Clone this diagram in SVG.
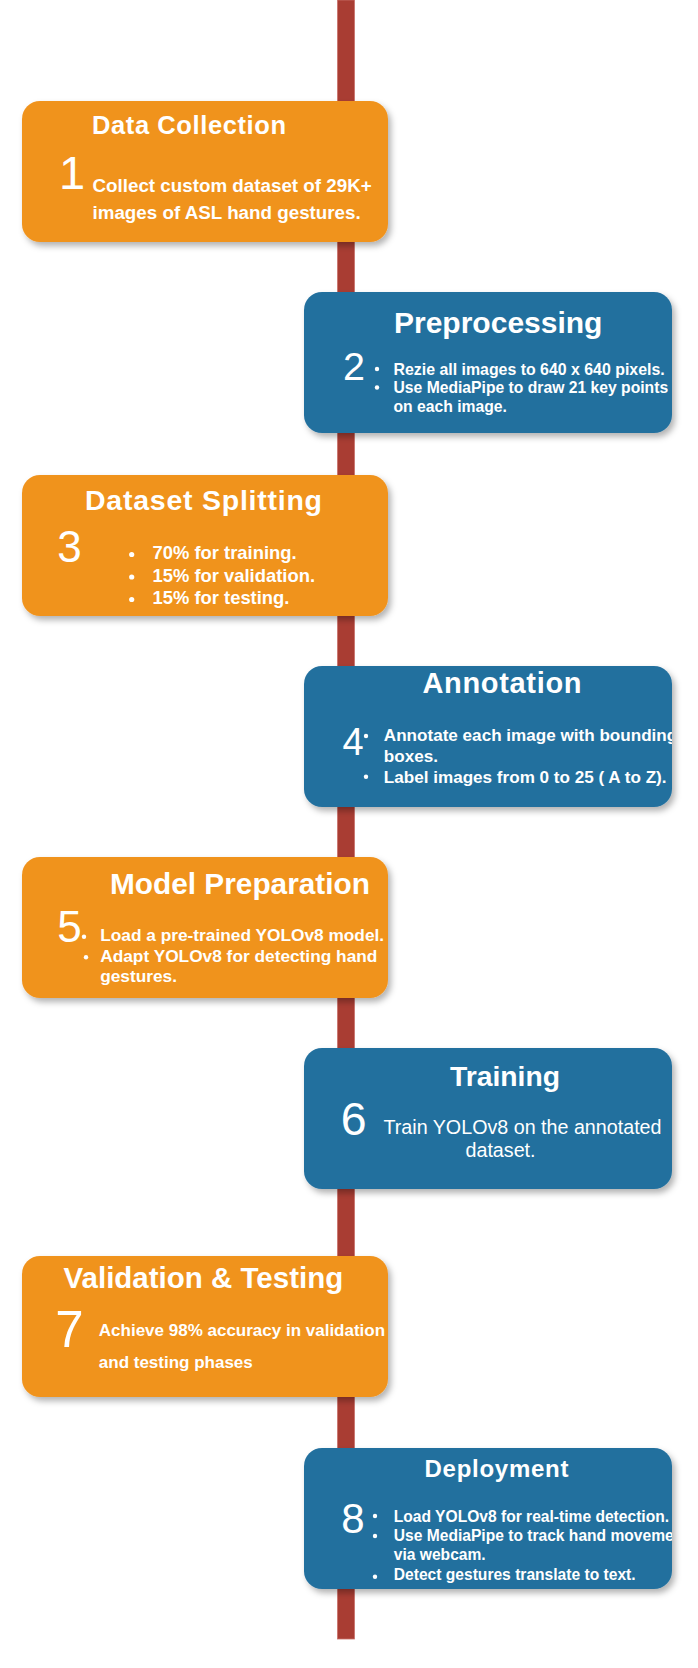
<svg xmlns="http://www.w3.org/2000/svg" width="698" height="1668" viewBox="0 0 698 1668">
<style>
text{font-family:"Liberation Sans",Arial,Helvetica,sans-serif;fill:#ffffff}
.t{font-weight:bold}
.b{font-weight:bold}
.r{font-weight:normal}
.n{font-weight:normal}
.org{fill:#F0931F}
.blu{fill:#23709E}
.dot{fill:#ffffff}
</style>
<defs>
<filter id="sh" x="-10%" y="-10%" width="125%" height="130%">
<feDropShadow dx="3" dy="4" stdDeviation="3" flood-color="#000000" flood-opacity="0.3"/>
</filter>
<clipPath id="c4"><rect x="304" y="666" width="368" height="141" rx="18"/></clipPath>
<clipPath id="c7"><rect x="22" y="1256" width="366" height="141" rx="18"/></clipPath>
<clipPath id="c8"><rect x="304" y="1448" width="368" height="141" rx="18"/></clipPath>
</defs>
<rect width="698" height="1668" fill="#ffffff"/>
<g id="connectors">
<rect x="337.5" y="0" width="17" height="1639" fill="#A93D33" stroke="#C9706A" stroke-width="0.8"/>
</g>
<g id="node1">
<rect class="org" x="22" y="101" width="366" height="141" rx="18" filter="url(#sh)"/>
<text class="t" x="92" y="134" font-size="25.5" textLength="194">Data Collection</text>
<text class="n" x="72" y="189" font-size="47" text-anchor="middle">1</text>
<text class="b" x="92.5" y="191.5" font-size="18.8">Collect custom dataset of 29K+</text>
<text class="b" x="92.5" y="219.3" font-size="18.8">images of ASL hand gestures.</text>
</g>
<g id="node2">
<rect class="blu" x="304" y="292" width="368" height="141" rx="18" filter="url(#sh)"/>
<text class="t" x="394" y="333.3" font-size="30">Preprocessing</text>
<text class="n" x="354" y="380" font-size="39.5" text-anchor="middle">2</text>
<circle class="dot" cx="377" cy="369" r="2.2"/>
<circle class="dot" cx="377" cy="387.5" r="2.2"/>
<text class="b" x="393.5" y="374.8" font-size="15.9">Rezie all images to 640 x 640 pixels.</text>
<text class="b" x="393.5" y="393" font-size="15.7">Use MediaPipe to draw 21 key points</text>
<text class="b" x="393.5" y="411.5" font-size="15.7">on each image.</text>
</g>
<g id="node3">
<rect class="org" x="22" y="475" width="366" height="141" rx="18" filter="url(#sh)"/>
<text class="t" x="85" y="510" font-size="28.5" textLength="237">Dataset Splitting</text>
<text class="n" x="69.5" y="561.7" font-size="44" text-anchor="middle">3</text>
<circle class="dot" cx="131.7" cy="554.5" r="2.6"/>
<circle class="dot" cx="131.7" cy="577" r="2.6"/>
<circle class="dot" cx="131.7" cy="599.5" r="2.6"/>
<text class="b" x="152.5" y="559.3" font-size="18.4">70% for training.</text>
<text class="b" x="152.5" y="581.7" font-size="18.4">15% for validation.</text>
<text class="b" x="152.5" y="604" font-size="18.4">15% for testing.</text>
</g>
<g id="node4">
<rect class="blu" x="304" y="666" width="368" height="141" rx="18" filter="url(#sh)"/>
<text class="t" x="422.5" y="693.3" font-size="29" textLength="159">Annotation</text>
<text class="n" x="353" y="755" font-size="38" text-anchor="middle">4</text>
<g clip-path="url(#c4)">
<circle class="dot" cx="366" cy="736" r="2.2"/>
<circle class="dot" cx="366" cy="776.7" r="2.2"/>
<text class="b" x="383.8" y="740.7" font-size="17.1">Annotate each image with bounding</text>
<text class="b" x="383.8" y="761.7" font-size="17.1">boxes.</text>
<text class="b" x="383.8" y="782.7" font-size="17.1">Label images from 0 to 25 ( A to Z).</text>
</g>
</g>
<g id="node5">
<rect class="org" x="22" y="857" width="366" height="141" rx="18" filter="url(#sh)"/>
<text class="t" x="110" y="894" font-size="29.8">Model Preparation</text>
<text class="n" x="69.5" y="941.7" font-size="44" text-anchor="middle">5</text>
<circle class="dot" cx="84" cy="936.7" r="2.2"/>
<circle class="dot" cx="86" cy="957.3" r="2.2"/>
<text class="b" x="100.2" y="940.7" font-size="17.3">Load a pre-trained YOLOv8 model.</text>
<text class="b" x="100.2" y="961.5" font-size="17.3">Adapt YOLOv8 for detecting hand</text>
<text class="b" x="100.2" y="981.5" font-size="17.3">gestures.</text>
</g>
<g id="node6">
<rect class="blu" x="304" y="1048" width="368" height="141" rx="18" filter="url(#sh)"/>
<text class="t" x="450" y="1086" font-size="28.3">Training</text>
<text class="n" x="353.7" y="1135" font-size="46.5" text-anchor="middle">6</text>
<text class="r" x="383.5" y="1134" font-size="19.7">Train YOLOv8 on the annotated</text>
<text class="r" x="465.5" y="1156.7" font-size="19.7">dataset.</text>
</g>
<g id="node7">
<rect class="org" x="22" y="1256" width="366" height="141" rx="18" filter="url(#sh)"/>
<text class="t" x="63.5" y="1288.3" font-size="29.5">Validation &amp; Testing</text>
<text class="n" x="69.5" y="1346.7" font-size="51" text-anchor="middle">7</text>
<g clip-path="url(#c7)">
<text class="b" x="98.8" y="1336" font-size="17">Achieve 98% accuracy in validation</text>
<text class="b" x="98.8" y="1368.3" font-size="17">and testing phases</text>
</g>
</g>
<g id="node8">
<rect class="blu" x="304" y="1448" width="368" height="141" rx="18" filter="url(#sh)"/>
<text class="t" x="424.5" y="1476.7" font-size="24" textLength="144">Deployment</text>
<text class="n" x="353" y="1533.3" font-size="42" text-anchor="middle">8</text>
<g clip-path="url(#c8)">
<circle class="dot" cx="375" cy="1516" r="2.2"/>
<circle class="dot" cx="375" cy="1536" r="2.2"/>
<circle class="dot" cx="375" cy="1576.7" r="2.2"/>
<text class="b" x="393.8" y="1521.5" font-size="15.6">Load YOLOv8 for real-time detection.</text>
<text class="b" x="393.8" y="1540.8" font-size="15.6">Use MediaPipe to track hand moveme</text>
<text class="b" x="393.8" y="1560" font-size="15.6">via webcam.</text>
<text class="b" x="393.8" y="1579.8" font-size="15.6">Detect gestures translate to text.</text>
</g>
</g>
</svg>
